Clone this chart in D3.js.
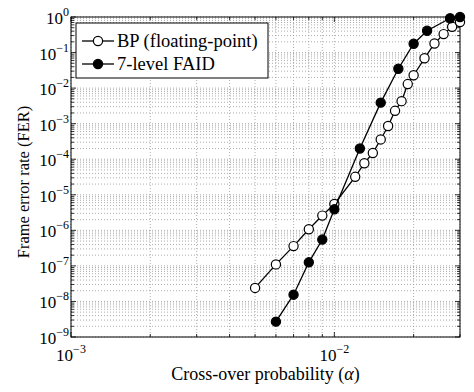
<!DOCTYPE html>
<html>
<head>
<meta charset="utf-8">
<script src="https://cdn.jsdelivr.net/npm/d3@7"></script>
<style>
  html, body { margin: 0; padding: 0; background: #fff; }
  svg text { font-family: "Liberation Serif", "DejaVu Serif", serif; fill: #000; }
</style>
</head>
<body>
<div id="chart"></div>
<script>
// Данные
const bpAlpha = [0.005, 0.006, 0.007, 0.008, 0.009, 0.01, 0.012, 0.013, 0.014, 0.015, 0.016, 0.017, 0.018, 0.019, 0.02, 0.022, 0.024, 0.026, 0.028, 0.03];
const bpFer = [2.4e-8, 1.1e-7, 3.6e-7, 1.07e-6, 2.6e-6, 5.5e-6, 3.2e-5, 7.7e-5, 1.5e-4, 3.6e-4, 8.6e-4, 2.3e-3, 4.3e-3, 1.3e-2, 2.3e-2, 6.9e-2, 0.18, 0.33, 0.53, 0.72];
const faidAlpha = [0.006, 0.007, 0.008, 0.009, 0.01, 0.0125, 0.015, 0.0175, 0.02, 0.0225, 0.0275, 0.03];
const faidFer = [2.7e-9, 1.55e-8, 1.26e-7, 5.5e-7, 3.9e-6, 2.0e-4, 3.9e-3, 3.5e-2, 0.177, 0.41, 0.92, 1.0];
const seriesNames = ['BP (floating-point)', '7-level FAID'];
const xTickExp = [-3, -2];
const yTickExp = [0, -1, -2, -3, -4, -5, -6, -7, -8, -9];

const width = 474, height = 392;
const margin = { top: 17, right: 14, bottom: 55, left: 71 };
const iw = width - margin.left - margin.right;
const ih = height - margin.top - margin.bottom;

const svg = d3.select('#chart').append('svg')
  .attr('width', width).attr('height', height);
const g = svg.append('g').attr('transform', `translate(${margin.left},${margin.top})`);

const x = d3.scaleLog().domain([1e-3, 0.03]).range([0, iw]);
const y = d3.scaleLog().domain([1e-9, 1]).range([ih, 0]);

// Сетка (все деления)
const xGrid = [];
for (let e = -3; e <= -2; e++) for (let m = 1; m <= 9; m++) {
  const v = m * Math.pow(10, e);
  if (v <= 0.03 + 1e-12) xGrid.push(v);
}
const yGrid = [];
for (let e = -9; e <= 0; e++) for (let m = 1; m <= 9; m++) {
  const v = m * Math.pow(10, e);
  if (v <= 1 + 1e-12) yGrid.push(v);
}

g.append('g').selectAll('line').data(xGrid).enter().append('line')
  .attr('x1', d => x(d)).attr('x2', d => x(d))
  .attr('y1', 0).attr('y2', ih)
  .attr('stroke', '#999').attr('stroke-width', 0.8)
  .attr('stroke-dasharray', '1,2');
g.append('g').selectAll('line').data(yGrid).enter().append('line')
  .attr('x1', 0).attr('x2', iw)
  .attr('y1', d => y(d)).attr('y2', d => y(d))
  .attr('stroke', '#999').attr('stroke-width', 0.8)
  .attr('stroke-dasharray', '1,2');

// Оси с делениями внутрь
const isMajor = v => Math.abs(Math.log10(v) - Math.round(Math.log10(v))) < 1e-9;
const tk = d => isMajor(d) ? 5 : 3;
[0, ih].forEach((yy, i) => {
  g.append('g').selectAll('line').data(xGrid).enter().append('line')
    .attr('x1', d => x(d)).attr('x2', d => x(d))
    .attr('y1', yy).attr('y2', d => i === 0 ? yy + tk(d) : yy - tk(d))
    .attr('stroke', '#000').attr('stroke-width', 0.8);
});
[0, iw].forEach((xx, i) => {
  g.append('g').selectAll('line').data(yGrid).enter().append('line')
    .attr('y1', d => y(d)).attr('y2', d => y(d))
    .attr('x1', xx).attr('x2', d => i === 0 ? xx + tk(d) : xx - tk(d))
    .attr('stroke', '#000').attr('stroke-width', 0.8);
});

// Подписи делений
xTickExp.forEach(e => {
  const t = g.append('text')
    .attr('x', x(Math.pow(10, e)))
    .attr('y', ih + 24)
    .attr('text-anchor', 'middle')
    .style('font-size', '17px');
  t.append('tspan').text('10');
  t.append('tspan').attr('dy', -8).style('font-size', '12px').text('\u2212' + Math.abs(e));
});
yTickExp.forEach(e => {
  const t = g.append('text')
    .attr('x', -2)
    .attr('y', y(Math.pow(10, e)) + 7)
    .attr('text-anchor', 'end')
    .style('font-size', '17px');
  t.append('tspan').text('10');
  t.append('tspan').attr('dy', -8).style('font-size', '12px')
    .text(e === 0 ? '0' : '\u2212' + Math.abs(e));
});

// Рамка
g.append('rect').attr('width', iw).attr('height', ih)
  .attr('fill', 'none').attr('stroke', '#000').attr('stroke-width', 1);

// Кривые
const line = d3.line().x(d => x(d[0])).y(d => y(d[1]));
const bp = bpAlpha.map((a, i) => [a, bpFer[i]]);
const faid = faidAlpha.map((a, i) => [a, faidFer[i]]);

[[bp, '#fff'], [faid, '#000']].forEach(([pts, fill]) => {
  g.append('path').datum(pts).attr('d', line)
    .attr('fill', 'none').attr('stroke', '#000').attr('stroke-width', 1.3);
  g.append('g').selectAll('circle').data(pts).enter().append('circle')
    .attr('cx', d => x(d[0])).attr('cy', d => y(d[1]))
    .attr('r', 4.6).attr('fill', fill)
    .attr('stroke', '#000').attr('stroke-width', 1.2);
});

// Легенда
const lg = g.append('g').attr('transform', 'translate(5,6)');
lg.append('rect').attr('width', 192).attr('height', 55)
  .attr('fill', '#fff').attr('stroke', '#000').attr('stroke-width', 1);
seriesNames.forEach((name, i) => {
  const yy = 18 + i * 23;
  lg.append('line').attr('x1', 6).attr('x2', 38).attr('y1', yy).attr('y2', yy)
    .attr('stroke', '#000').attr('stroke-width', 1.3);
  lg.append('circle').attr('cx', 22).attr('cy', yy).attr('r', 4.6)
    .attr('fill', i === 0 ? '#fff' : '#000')
    .attr('stroke', '#000').attr('stroke-width', 1.2);
  lg.append('text').attr('x', 41).attr('y', yy + 6)
    .style('font-size', '18.5px').text(name);
});

// Подписи осей
svg.append('text')
  .attr('x', margin.left + iw / 2).attr('y', 380)
  .attr('text-anchor', 'middle')
  .style('font-size', '18px')
  .html('Cross-over probability (<tspan font-style="italic">α</tspan>)');
svg.append('text')
  .attr('transform', `translate(29,${margin.top + ih / 2 + 5}) rotate(-90)`)
  .attr('text-anchor', 'middle')
  .style('font-size', '16.5px')
  .text('Frame error rate (FER)');
</script>
</body>
</html>
